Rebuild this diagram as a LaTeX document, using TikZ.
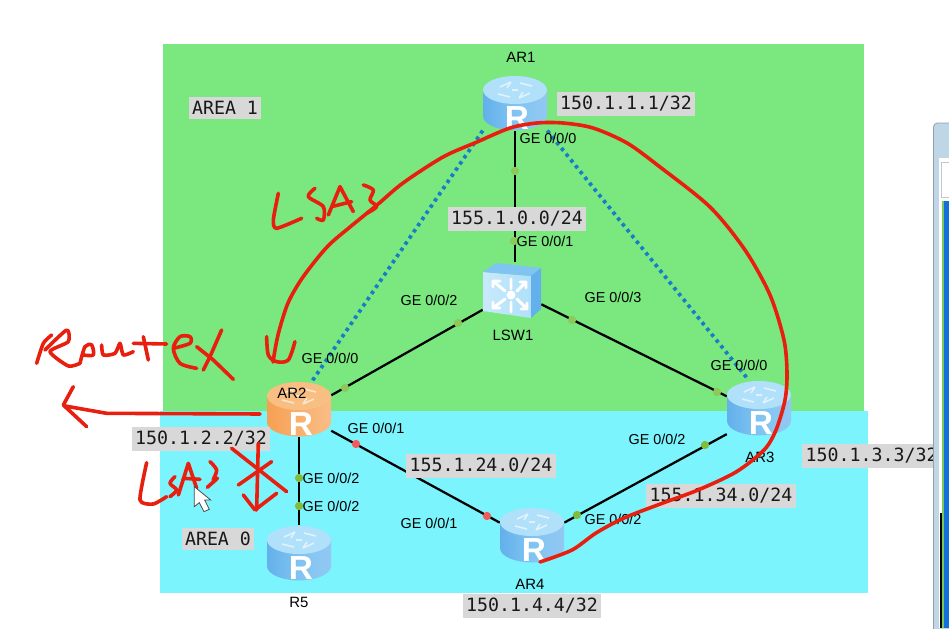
\documentclass[tikz,border=0pt]{standalone}
\usepackage{fontspec}
\setmainfont{Liberation Sans}
\newfontfamily\monof{DejaVu Sans Mono}
\usetikzlibrary{calc}
\definecolor{areag}{RGB}{122,232,127}
\definecolor{areab}{RGB}{124,244,253}
\definecolor{lblg}{RGB}{216,216,216}
\definecolor{inkr}{RGB}{232,30,14}
\definecolor{dotblue}{RGB}{24,124,200}
\definecolor{portmute}{RGB}{140,200,90}
\definecolor{portred}{RGB}{240,90,90}
\definecolor{portgrn}{RGB}{126,190,60}
\definecolor{winface}{RGB}{190,214,230}
\definecolor{winedge}{RGB}{150,160,170}
\definecolor{winline}{RGB}{190,200,210}
\definecolor{wingreen}{RGB}{120,200,90}
\definecolor{winblue}{RGB}{20,110,220}
\definecolor{rl}{RGB}{100,176,236}
\definecolor{rm}{RGB}{128,196,242}
\definecolor{rt}{RGB}{176,224,250}
\definecolor{ol}{RGB}{246,160,84}
\definecolor{om}{RGB}{248,176,110}
\definecolor{ot}{RGB}{248,190,130}
\tikzset{
  x=0.75pt,y=-0.75pt,
  rbox/.style={inner sep=0,minimum width=48pt,minimum height=41pt},
  swbox/.style={inner sep=0,minimum width=43.5pt,minimum height=41pt},
  addr/.style={font=\monof\fontsize{13.7}{15}\selectfont,fill=lblg,inner xsep=2.5pt,inner ysep=3pt,text=black!90},
  iface/.style={font=\fontsize{10.8}{12}\selectfont,inner sep=0,text=black},
  devname/.style={font=\fontsize{11.2}{13}\selectfont,inner sep=0,text=black},
  wire/.style={line width=1.7pt,black},
  dotted link/.style={line width=2.8pt,dotblue,dash pattern=on 2.6pt off 3pt},
  portg/.style={circle,fill=#1,inner sep=0,minimum size=6.2pt},
  ink/.style={inkr,line width=2.7pt,line cap=round,line join=round},
  rletter/.style={font=\bfseries\fontsize{25}{28}\selectfont,text=white,inner sep=0},
}
\newcommand{\rtrshape}[6]{% name x y  left mid top
  \begin{scope}[shift={(#2,#3)}]
    \shade[left color=#4,right color=#4!70!white,middle color=#5]
      (-32,-14) -- (-32,13) .. controls (-32,22) and (-15,27.5) .. (0,27.5)
      .. controls (15,27.5) and (32,22) .. (32,13) -- (32,-14) -- cycle;
    \fill[#6] (0,-13) ellipse [x radius=32,y radius=14];
    \draw[white,line width=1.2pt,opacity=.6]
      (-15,-16) -- (-4,-21) (-4,-21) -- (-8,-15) (15,-10) -- (4,-5) (4,-5) -- (8,-11)
      (-17,-9) -- (-5,-6) (17,-17) -- (5,-20) (-3,-13) -- (3,-13);
    \node[rletter] (#1R) at (2,15) {R};
  \end{scope}}
\begin{document}
\begin{tikzpicture}
\useasboundingbox (0,0) rectangle (949,628);
\fill[white] (0,0) rectangle (949,628);
% areas
\fill[areag] (163,44) rectangle (864,411);
\fill[areab] (160,411) rectangle (868,593);
% device anchors
\node[rbox] (AR1) at (515,103) {};
\node[rbox] (AR2) at (299,409) {};
\node[rbox] (AR3) at (759,408) {};
\node[rbox] (AR4) at (532,535) {};
\node[rbox] (R5)  at (299,553) {};
\node[swbox] (LSW1) at (512,290) {};
% links
\draw[dotted link] (AR1.south west) -- (AR2.65);
\draw[dotted link] (AR1.south east) -- (AR3.110);
\draw[wire] (AR1.south) -- (AR1.south |- LSW1.north);
\draw[wire] (LSW1.214) -- (AR2.23);
\draw[wire] (LSW1.334) -- (AR3.160);
\draw[wire] (AR2.326) -- (AR4.159);
\draw[wire] (AR4.21) -- (AR3.219);
\draw[wire] (AR2.south) -- (R5.north);
% port dots
\node[portg=portmute] (p1) at (515,171) {};
\node[portg=portmute] (p2) at (514,241) {};
\node[portg=portmute] (p3) at (458,323) {};
\node[portg=portmute] (p4) at (572,320) {};
\node[portg=portmute] (p5) at (345,388) {};
\node[portg=portmute] (p6) at (717,392) {};
\node[portg=portred] (p7) at (356,444) {};
\node[portg=portred] (p8) at (487,516) {};
\node[portg=portgrn] (p9) at (299,478) {};
\node[portg=portgrn] (p10) at (299,506) {};
\node[portg=portgrn] (p11) at (577,515) {};
\node[portg=portgrn] (p12) at (705,445) {};
% routers
\rtrshape{AR1}{515}{103}{rl}{rm}{rt}
\rtrshape{AR2}{299}{409}{ol}{om}{ot}
\rtrshape{AR3}{759}{408}{rl}{rm}{rt}
\rtrshape{AR4}{532}{535}{rl}{rm}{rt}
\rtrshape{R5}{299}{553}{rl}{rm}{rt}
% switch
\begin{scope}[shift={(512,290)}]
  \shade[left color=rt!70!white,right color=rt] (-29,-18) -- (19,-14) -- (19,28) -- (-29,21) -- cycle;
  \fill[rm] (-29,-18) -- (-16,-27) -- (29,-22) -- (19,-14) -- cycle;
  \fill[rl] (19,-14) -- (29,-22) -- (29,19) -- (19,28) -- cycle;
  \draw[white,line width=2.2pt,line cap=round]
    (-7,1) -- (-19,-9) (-19,-9) -- (-19,-3) (-19,-9) -- (-12,-9)
    (-1,-1) -- (-1,-11)
    (5,1) -- (14,-8) (14,-8) -- (14,-2) (14,-8) -- (8,-8)
    (-7,9) -- (-19,18) (-19,18) -- (-19,12) (-19,18) -- (-12,18)
    (5,9) -- (15,19) (15,19) -- (15,13) (15,19) -- (9,19)
    (-1,12) -- (-1,22);
  \fill[white] (-1,5) circle [radius=4.5];
\end{scope}
% names
\node[devname] (nAR1) at (521,57) {AR1};
\node[devname] (nAR2) at (292,393) {AR2};
\node[devname] (nAR3) at (760,457) {AR3};
\node[devname] (nAR4) at (530,584) {AR4};
\node[devname] (nR5) at (299,602) {R5};
\node[devname] (nLSW) at (513,335) {LSW1};
% interface labels
\node[iface] (i1) at (548,138) {GE 0/0/0};
\node[iface] (i2) at (545,241) {GE 0/0/1};
\node[iface] (i3) at (429,300) {GE 0/0/2};
\node[iface] (i4) at (613,297) {GE 0/0/3};
\node[iface] (i5) at (330,358) {GE 0/0/0};
\node[iface] (i6) at (739,365) {GE 0/0/0};
\node[iface] (i7) at (376,428) {GE 0/0/1};
\node[iface] (i8) at (331,478) {GE 0/0/2};
\node[iface] (i9) at (331,506) {GE 0/0/2};
\node[iface] (i10) at (429,523) {GE 0/0/1};
\node[iface] (i11) at (613,519) {GE 0/0/2};
\node[iface] (i12) at (657,439) {GE 0/0/2};
% address labels
\node[addr] (a1) at (626,104) {150.1.1.1/32};
\node[addr] (a2) at (201,439) {150.1.2.2/32};
\node[addr,anchor=west] (a3) at (802,456) {150.1.3.3/32};
\node[addr] (a4) at (532,606) {150.1.4.4/32};
\node[addr] (a5) at (517,219) {155.1.0.0/24};
\node[addr] (a6) at (481,466) {155.1.24.0/24};
\node[addr] (a7) at (721,496) {155.1.34.0/24};
\node[addr] (a8) at (225,108) {AREA 1};
\node[addr] (a9) at (218,539) {AREA 0};
% window at the right
\filldraw[rounded corners=3pt,fill=winface,draw=winedge,line width=.6pt] (933.5,640) -- (933.5,123) -- (960,123) -- (960,640) -- cycle;
\fill[white] (939,158) rectangle (949,628);
\filldraw[fill=white,draw=winline,line width=.5pt] (941,162) rectangle (955,197);
\fill[wingreen] (941.5,201) rectangle (944,628);
\fill[winblue] (944,201) rectangle (949,628);
\fill[black] (940,513) rectangle (942,628);
% red handwriting, main curve
\draw[ink] plot[smooth,tension=.5] coordinates {(540,562) (572,550) (596,533) (624,518) (663,503) (698,490) (736,472) (764,450) (776,430) (785,400) (787,373) (784,340) (770,295) (745,250) (710,207) (660,167) (627,143) (593,128) (563,123) (537,123) (510,128) (477,142) (443,157) (403,183) (377,205) (350,227) (327,247) (303,277) (288,303) (278,335) (273,362)};
\begin{scope}[shift={(0,280)},scale=.3333]
  \draw[ink] plot[smooth,tension=.5] coordinates {(800,170) (805,225) (830,245) (865,240) (885,185)};
  % Router
  \draw[ink] plot[smooth,tension=.4] coordinates {(110,250) (130,190) (155,165)};
  \draw[ink] plot[smooth,tension=.4] coordinates {(135,210) (200,150) (205,185) (150,215) (205,258) (240,250)};
  \draw[ink] plot[smooth,tension=.5] coordinates {(240,250) (255,200) (275,195) (280,225) (250,225)};
  \draw[ink] plot[smooth,tension=.4] coordinates {(305,195) (310,225) (345,220) (360,190) (370,225) (400,215)};
  \draw[ink] (430,170) -- (445,240);
  \draw[ink] (400,190) -- (500,192);
  \draw[ink] plot[smooth,tension=.5] coordinates {(520,205) (570,190) (570,170) (540,170) (520,205) (540,250) (590,265)};
  \draw[ink] (590,200) -- (640,240) -- (700,298);
  \draw[ink] (665,150) -- (630,230) -- (610,270);
  % left arrow
  \draw[ink] (780,402) -- (320,400) -- (195,378);
  \draw[ink] (220,320) -- (190,375) -- (260,440);
  % LSA3 below
  \draw[ink] plot[smooth,tension=.4] coordinates {(440,548) (420,660) (460,672) (500,650)};
  \draw[ink] plot[smooth,tension=.5] coordinates {(525,590) (510,610) (530,630) (510,650)};
  \draw[ink] (535,645) -- (565,550) -- (590,625);
  \draw[ink] (550,595) -- (600,598);
  \draw[ink] plot[smooth,tension=.5] coordinates {(630,545) (650,570) (640,600) (652,595) (622,622)};
  % blocked arrow
  \draw[ink] (775,490) -- (770,690);
  \draw[ink] (730,645) -- (765,690) -- (830,640);
  \draw[ink] (695,505) -- (860,635);
  \draw[ink] (815,545) -- (715,615);
  % cursor
  \draw[fill=white,draw=black!70,line width=.6pt] (583,620) -- (583,680) -- (598,668) -- (612,695) -- (628,688) -- (614,660) -- (632,660) -- cycle;
\end{scope}
% LSA3 upper
\begin{scope}[shift={(260,30)},scale=.3333]
  \draw[ink] plot[smooth,tension=.4] coordinates {(55,490) (40,570) (50,595) (125,565)};
  \draw[ink] plot[smooth,tension=.5] coordinates {(165,475) (145,500) (190,530) (190,570) (170,565)};
  \draw[ink] (205,555) -- (240,470) -- (280,545);
  \draw[ink] (215,530) -- (275,515);
  \draw[ink] plot[smooth,tension=.5] coordinates {(310,465) (340,480) (330,510) (350,530) (320,550)};
\end{scope}
\end{tikzpicture}
\end{document}
